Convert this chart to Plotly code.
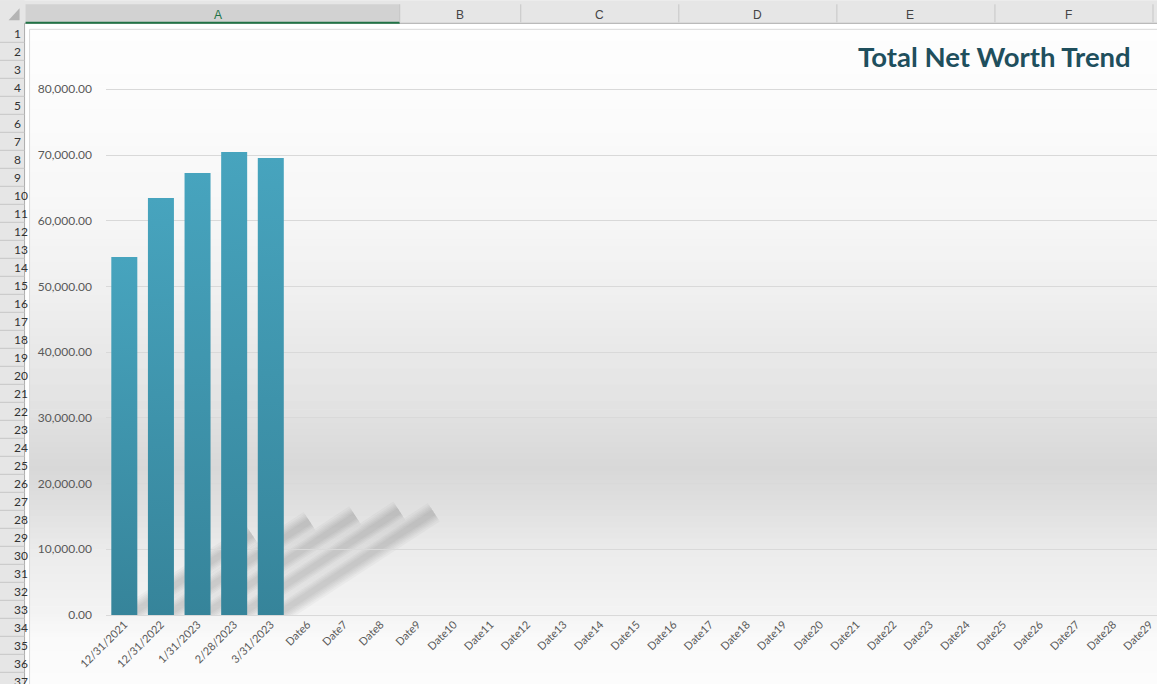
import plotly.graph_objects as go

# data
categories = ["12/31/2021", "12/31/2022", "1/31/2023", "2/28/2023", "3/31/2023",
              "Date6", "Date7", "Date8", "Date9", "Date10", "Date11", "Date12",
              "Date13", "Date14", "Date15", "Date16", "Date17", "Date18", "Date19",
              "Date20", "Date21", "Date22", "Date23", "Date24", "Date25", "Date26",
              "Date27", "Date28", "Date29"]
net_worth = [54470, 63450, 67260, 70460, 69550]

col_letters = ["A", "B", "C", "D", "E", "F"]
row_numbers = list(range(1, 38))

W, H = 1157, 684
# plot area in pixels (top a bit above the 80,000 line so its gridline shows)
PL, PR, PT, PB = 106.4, 1157, 85.7, 614.7
YMAX = 80500


def px(x):
    return (x - PL) / (PR - PL)


def py(y):
    return (PB - y) / (PB - PT)


fig = go.Figure()

# bars (with vertical gradient like excel)
hw = 0.355
for i, v in enumerate(net_worth):
    fig.add_trace(go.Scatter(
        x=[i - hw, i - hw, i + hw, i + hw, i - hw], y=[0, v, v, 0, 0],
        mode="lines", fill="toself", line=dict(width=0),
        fillgradient=dict(type="vertical",
                          colorscale=[[0, "#36849a"], [1, "#47a4be"]]),
        hoverinfo="text", text=f"{categories[i]}: {v:,.2f}", showlegend=False))

shapes = []

# chart background gradient
stops = [(29, 254), (120, 251), (222, 246), (286, 240), (352, 233), (417, 225),
         (465, 216), (505, 223), (549, 235), (614, 244), (640, 250), (684, 252)]
for k in range(len(stops) - 1):
    y0, c0 = stops[k]
    y1, c1 = stops[k + 1]
    n = 8
    for j in range(n):
        ya = y0 + (y1 - y0) * j / n
        yb = y0 + (y1 - y0) * (j + 1) / n
        c = round(c0 + (c1 - c0) * (j + 0.5) / n)
        shapes.append(dict(type="rect", xref="paper", yref="paper",
                           x0=px(30), x1=px(W), y0=py(ya), y1=py(yb + 0.6),
                           fillcolor=f"rgb({c},{c},{c})", line=dict(width=0),
                           layer="below"))

# perspective shadows of bars (soft, built from stacked translucent lines)
for i, v in enumerate(net_worth):
    dx = v * 6.4e-5
    dy = v * 0.225
    for lw in [22, 18, 15, 12, 9, 6]:
        shapes.append(dict(type="line", xref="x", yref="y",
                           x0=i + 0.15, y0=0, x1=i + dx, y1=dy,
                           line=dict(color="rgba(70,70,70,0.035)", width=lw),
                           layer="below"))

# excel chrome: headers
hdr = "#e6e6e6"
shapes.append(dict(type="rect", xref="paper", yref="paper", x0=px(0), x1=px(W),
                   y0=py(0), y1=py(23), fillcolor=hdr, line=dict(width=0)))
shapes.append(dict(type="rect", xref="paper", yref="paper", x0=px(0), x1=px(25),
                   y0=py(0), y1=py(H), fillcolor=hdr, line=dict(width=0)))
shapes.append(dict(type="rect", xref="paper", yref="paper", x0=px(26), x1=px(400),
                   y0=py(4), y1=py(22), fillcolor="#d2d2d2", line=dict(width=0)))
shapes.append(dict(type="line", xref="paper", yref="paper", x0=px(25), x1=px(W),
                   y0=py(23), y1=py(23), line=dict(color="#ababab", width=1)))
shapes.append(dict(type="line", xref="paper", yref="paper", x0=px(26), x1=px(400),
                   y0=py(22.5), y1=py(22.5), line=dict(color="#217346", width=2)))
shapes.append(dict(type="line", xref="paper", yref="paper", x0=px(25), x1=px(25),
                   y0=py(23), y1=py(H), line=dict(color="#ababab", width=1)))
shapes.append(dict(type="path", xref="paper", yref="paper",
                   path=f"M {px(20)},{py(8)} L {px(20)},{py(20)} L {px(9)},{py(20)} Z",
                   fillcolor="#b4b4b4", line=dict(width=0)))
col_edges = [25, 400, 521, 679, 837, 995, 1153]
for xe in col_edges[1:]:
    shapes.append(dict(type="line", xref="paper", yref="paper", x0=px(xe), x1=px(xe),
                       y0=py(4), y1=py(22), line=dict(color="#c6c6c6", width=1)))
for r in row_numbers:
    yb = 24 + r * 18
    shapes.append(dict(type="line", xref="paper", yref="paper", x0=px(0), x1=px(25),
                       y0=py(yb), y1=py(yb), line=dict(color="#c6c6c6", width=1)))

# chart border
shapes.append(dict(type="rect", xref="paper", yref="paper", x0=px(30), x1=px(W + 5),
                   y0=py(29), y1=py(H + 5), line=dict(color="#d9d9d9", width=1),
                   layer="below"))

annotations = []
for k, letter in enumerate(col_letters):
    annotations.append(dict(text=letter, xref="paper", yref="paper",
                            x=px((col_edges[k] + col_edges[k + 1]) / 2), y=py(15),
                            yanchor="middle", showarrow=False,
                            font=dict(family="Liberation Sans", size=12,
                                      color="#217346" if letter == "A" else "#444444")))
for r in row_numbers:
    annotations.append(dict(text=str(r), xref="paper", yref="paper",
                            x=px(12.5), y=py(15 + r * 18), yanchor="middle",
                            showarrow=False,
                            font=dict(family="Lato", size=12, color="#333333")))

annotations.append(dict(text="<b>Total Net Worth Trend</b>", xref="paper", yref="paper",
                        x=px(1133), y=py(56), xanchor="right", yanchor="middle",
                        showarrow=False,
                        font=dict(family="Lato", size=27.5, color="#1f4f5d")))

fig.update_layout(
    width=W, height=H,
    margin=dict(l=PL, r=W - PR, t=PT, b=H - PB, pad=0),
    paper_bgcolor="white", plot_bgcolor="rgba(0,0,0,0)",
    shapes=shapes, annotations=annotations,
    showlegend=False,
    xaxis=dict(range=[-0.5, 28.2], tickmode="array",
               tickvals=list(range(len(categories))), ticktext=categories,
               tickangle=-45, showgrid=False, zeroline=False, showline=False,
               ticklabeloverflow="allow",
               tickfont=dict(family="Lato", size=11, color="#595959")),
    yaxis=dict(range=[0, YMAX], tick0=0, dtick=10000, tickformat=",.2f",
               showgrid=True, gridcolor="#d9d9d9", gridwidth=1,
               zeroline=True, zerolinecolor="#d9d9d9", zerolinewidth=1,
               ticklabelstandoff=13,
               tickfont=dict(family="Lato", size=12, color="#595959")),
)

fig.write_html("out.html", config={"displayModeBar": False},
               post_script="document.body.style.margin='0px';"
                           "document.body.style.overflow='hidden';")
